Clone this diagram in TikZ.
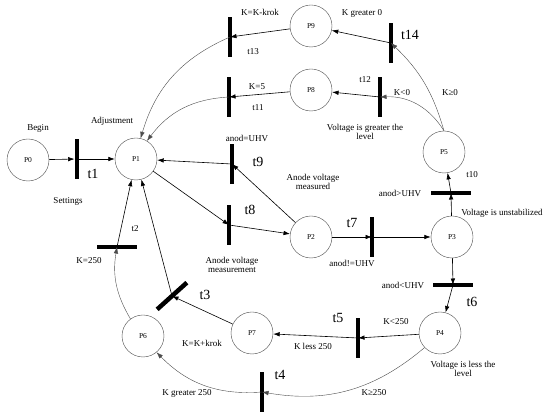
\documentclass[tikz,border=0pt]{standalone}
\usepackage{fontspec}
\setmainfont{Liberation Serif}
\usetikzlibrary{arrows.meta}
\begin{document}
\begin{tikzpicture}
    [x=1pt,y=1pt,
     place/.style={circle,draw=black!70,thin,minimum size=42pt,inner sep=0pt,font=\fontsize{7.5}{8}\selectfont},
     trans/.style={rectangle,fill=black,minimum width=4.5pt,minimum height=40pt,inner sep=0pt},
     htrans/.style={rectangle,fill=black,minimum width=40pt,minimum height=4.5pt,inner sep=0pt},
     lab/.style={font=\fontsize{9}{9.5}\selectfont,align=center},
     tlab/.style={font=\fontsize{14}{15}\selectfont},
     arc/.style={-{Latex[length=6.5pt,width=4.5pt]},semithick},
     curv/.style={-{Latex[length=6.5pt,width=4.5pt]},thin,draw=black!70}]
    \useasboundingbox (0,0) rectangle (550,418);
    % places
    \node[place](p0) at (28,258){P0};
    \node[place](p1) at (136,259){P1};
    \node[place](p2) at (311,181){P2};
    \node[place](p3) at (452,181){P3};
    \node[place](p4) at (440,85){P4};
    \node[place](p5) at (444,266){P5};
    \node[place](p6) at (143,82){P6};
    \node[place](p7) at (252,85){P7};
    \node[place](p8) at (311,328){P8};
    \node[place](p9) at (311,392){P9};
    % transitions
    \node[trans](t1) at (77,259){};
    \node[htrans](t2) at (117,171){};
    \node[htrans,rotate=42](t3) at (172,122){};
    \node[trans](t4) at (262,26){};
    \node[trans](t5) at (358,80){};
    \node[htrans](t6) at (453,133){};
    \node[trans](t7) at (372,181){};
    \node[trans](t8) at (229,193){};
    \node[trans](t9) at (232,254){};
    \node[htrans](t10) at (451,225){};
    \node[trans](t11) at (229,321){};
    \node[trans](t12) at (380,321){};
    \node[trans](t13) at (230,381){};
    \node[trans](t14) at (391,375){};
    % labels
    \node[lab](begin) at (38,290){Begin};
    \node[lab](adj) at (112,297){Adjustment};
    \node[lab](set) at (68,217){Settings};
    \node[tlab](lt1) at (93,244){t1};
    \node[lab](lt2) at (135,189){t2};
    \node[lab](k250) at (89,157){K=250};
    \node[tlab](lt3) at (205,123){t3};
    \node[lab](kplus) at (202,75){K=K+krok};
    \node[tlab](lt4) at (280,43){t4};
    \node[lab](kgt250) at (187,25){K greater 250};
    \node[lab](kge250) at (374,25){K≥250};
    \node[tlab](lt5) at (338,100){t5};
    \node[lab](klt250) at (396,96){K<250};
    \node[lab](kless) at (313,72){K less 250};
    \node[lab](vless) at (463,49){Voltage is less the\\level};
    \node[tlab](lt6) at (472,116){t6};
    \node[lab](anlt) at (403,133){anod<UHV};
    \node[tlab](lt7) at (352,195){t7};
    \node[lab](anne) at (352,155){anod!=UHV};
    \node[tlab](lt8) at (250,208){t8};
    \node[lab](meas) at (232,153){Anode voltage\\measurement};
    \node[tlab](lt9) at (258,256){t9};
    \node[lab](aneq) at (247,280){anod=UHV};
    \node[lab](measd) at (313,236){Anode voltage\\measured};
    \node[lab](unst) at (502,205){Voltage is unstabilized};
    \node[lab](lt10) at (472,243){t10};
    \node[lab](angt) at (400,225){anod>UHV};
    \node[lab](vgr) at (365,286){Voltage is greater the\\level};
    \node[lab](lt11) at (258,310){t11};
    \node[lab](k5) at (257,331){K=5};
    \node[lab](lt12) at (365,338){t12};
    \node[lab](klt0) at (402,325){K<0};
    \node[lab](kge0) at (450,325){K≥0};
    \node[lab](lt13) at (253,366){t13};
    \node[lab](kminus) at (260,406){K=K-krok};
    \node[tlab](lt14) at (410,383){t14};
    \node[lab](kgt0) at (362,405){K greater 0};
    % arcs
    \draw[arc] (p0) -- (t1);
    \draw[arc] (t1) -- (p1);
    \draw[arc] (p1) -- (t8.center);
    \draw[arc] (t8.center) -- (p2);
    \draw[arc] (p2) -- (t9.center);
    \draw[arc] (t9.center) -- (p1);
    \draw[arc] (p2) -- (t7.center);
    \draw[arc] (t7.center) -- (p3);
    \draw[arc] (p3) -- (t6.center);
    \draw[arc] (t6.center) -- (p4);
    \draw[arc] (p3) -- (t10.center);
    \draw[arc] (t10.center) -- (p5);
    \draw[arc] (p4) -- (t5.center);
    \draw[arc] (t5.center) -- (p7);
    \draw[arc] (p7) -- (t3.center);
    \draw[arc] (t3.center) -- (p1);
    \draw[arc] (t2.center) -- (p1);
    \draw[arc] (p9) -- (t13.center);
    \draw[arc] (p8) -- (t11.center);
    \draw[arc] (t12.center) -- (p8);
    \draw[arc] (t14.center) -- (p9);
    \draw[curv] (t13.center) to[bend right=25] (p1);
    \draw[curv] (t11.center) to[bend right=25] (p1);
    \draw[curv] (p5.north) to[bend right=30] (t12.center);
    \draw[curv] (p5.north) to[bend right=15] (t14.center);
    \draw[curv] (p4) to[bend left=25] (t4.center);
    \draw[curv] (t4.center) to[bend left=25] (p6);
    \draw[curv] (p6) to[bend left=20] (t2.center);
\end{tikzpicture}
\end{document}
